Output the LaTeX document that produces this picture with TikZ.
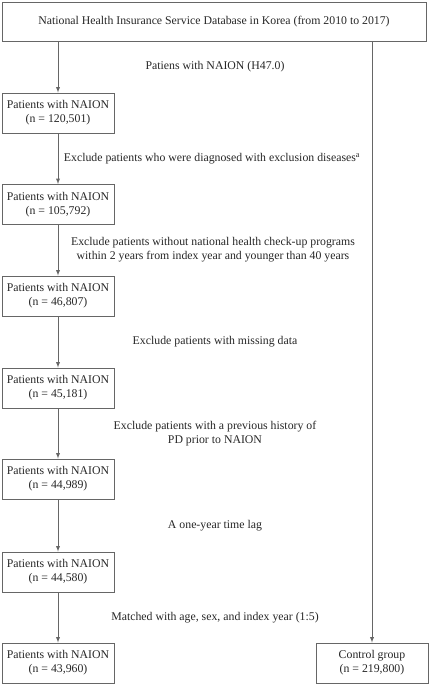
\documentclass[tikz,border=0pt]{standalone}
\usepackage{fontspec}
\setmainfont{Liberation Serif}
\usetikzlibrary{positioning, calc, arrows}

\begin{document}
\begin{tikzpicture}[x=1pt, y=-1pt, every node/.style={font=\fontsize{11.8}{14}\selectfont, text=black!85}]
			\tikzstyle{cohortbox}=[draw=black!60, line width=0.9pt, minimum height=40pt, minimum width=112pt, align=center, inner sep=0pt]
			\tikzstyle{steplabel}=[align=center, inner sep=0pt]
			\tikzstyle{flowline}=[-latex, line width=0.9pt, draw=black!60]
			
			\useasboundingbox (0,0) rectangle (429,685);
			
			\node (db) at (214,21.5) [cohortbox, minimum width=424pt, minimum height=39pt] {National Health Insurance Service Database in Korea (from 2010 to 2017)};
			
			\node (n1) at (58,113) [cohortbox] {Patients with NAION\\(n = 120,501)};
			\node (n2) at (58,204.5) [cohortbox] {Patients with NAION\\(n = 105,792)};
			\node (n3) at (58,296) [cohortbox] {Patients with NAION\\(n = 46,807)};
			\node (n4) at (58,388) [cohortbox] {Patients with NAION\\(n = 45,181)};
			\node (n5) at (58,479) [cohortbox] {Patients with NAION\\(n = 44,989)};
			\node (n6) at (58,572) [cohortbox] {Patients with NAION\\(n = 44,580)};
			\node (n7) at (58,663) [cohortbox] {Patients with NAION\\(n = 43,960)};
			\node (ctrl) at (372,663) [cohortbox] {Control group\\(n = 219,800)};
			
			
			\draw [flowline] (db.south -| n1.north) -- (n1);
			\draw [flowline] (n1) -- (n2);
			\draw [flowline] (n2) -- (n3);
			\draw [flowline] (n3) -- (n4);
			\draw [flowline] (n4) -- (n5);
			\draw [flowline] (n5) -- (n6);
			\draw [flowline] (n6) -- (n7);
			\draw [flowline] (db.south -| ctrl.north) -- (ctrl);
			
			
			\node (l1) at (215,67) [steplabel] {Patiens with NAION (H47.0)};
			\node (l2) at (212,159) [steplabel] {Exclude patients who were diagnosed with exclusion diseases\textsuperscript{a}};
			\node (l3) at (213,250) [steplabel] {Exclude patients without national health check-up programs\\within 2 years from index year and younger than 40 years};
			\node (l4) at (215,342) [steplabel] {Exclude patients with missing data};
			\node (l5) at (215,434) [steplabel] {Exclude patients with a previous history of\\PD prior to NAION};
			\node (l6) at (215,526) [steplabel] {A one-year time lag};
			\node (l7) at (215,618) [steplabel] {Matched with age, sex, and index year (1:5)};
			
\end{tikzpicture}
\end{document}
